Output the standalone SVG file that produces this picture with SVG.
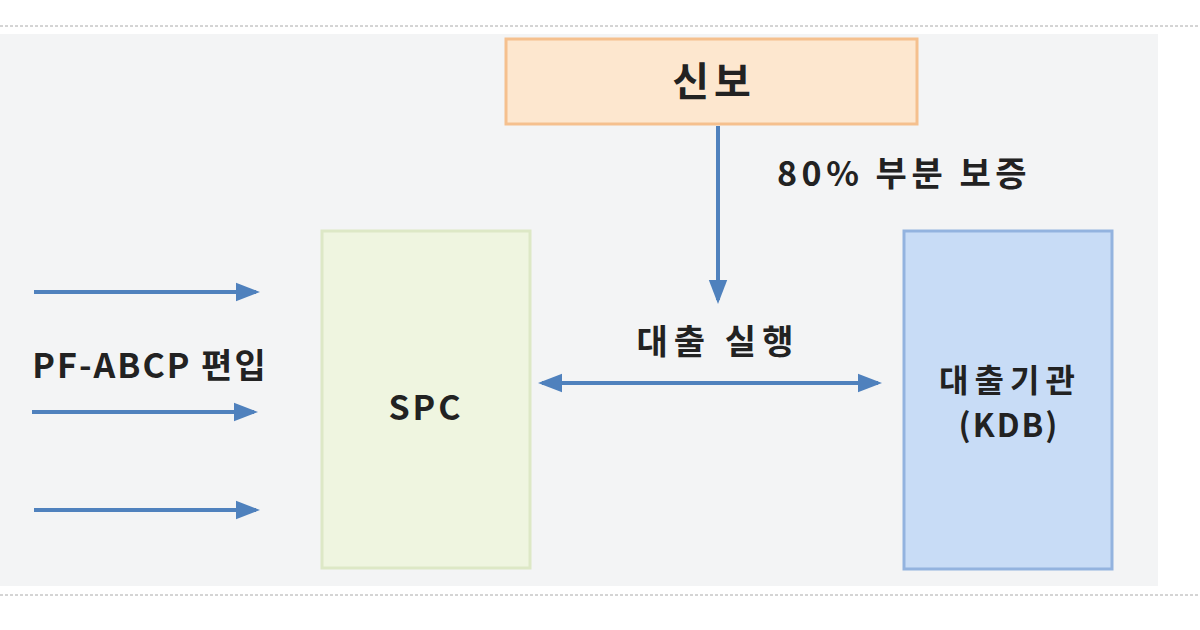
<svg xmlns="http://www.w3.org/2000/svg" width="1200" height="630" viewBox="0 0 1200 630">
<style>
.t{font-family:"Noto Sans CJK KR","Noto Sans",sans-serif;font-weight:bold;fill:#222;text-anchor:middle;font-size:34px}
.c{stroke:#4f81bd;stroke-width:4;fill:none}
.d{stroke:#aaa;stroke-width:1;stroke-dasharray:3 2}
</style>
<defs>
<marker id="ah" markerWidth="6" markerHeight="6" refX="5" refY="3" orient="auto-start-reverse" markerUnits="strokeWidth">
<path d="M0,0.7 L6,3 L0,5.3 Z" fill="#4f81bd"/>
</marker>
</defs>
<rect width="1200" height="630" fill="#fff"/>
<rect x="0" y="34" width="1158" height="552" fill="#f3f4f5"/>
<line class="d" x1="0" y1="26" x2="1200" y2="26"/>
<line class="d" x1="0" y1="595" x2="1200" y2="595"/>
<g id="sinbo">
<rect x="506" y="39" width="411" height="85" fill="#fde7cf" stroke="#f5c08e" stroke-width="3"/>
<text class="t" x="714" y="96" style="font-size:40px" letter-spacing="5">신보</text>
</g>
<g id="spc">
<rect x="322" y="231" width="208" height="337" fill="#eff5e0" stroke="#dde8c6" stroke-width="3"/>
<text class="t" x="426" y="420" letter-spacing="3">SPC</text>
</g>
<g id="kdb">
<rect x="904" y="231" width="208" height="338" fill="#c8dcf6" stroke="#93b3df" stroke-width="3"/>
<text class="t" x="1010" y="392" style="font-size:32px" letter-spacing="6">대출기관</text>
<text class="t" x="1009" y="437" style="font-size:32px" letter-spacing="2">(KDB)</text>
</g>
<g id="connectors">
<line class="c" x1="718" y1="126" x2="718" y2="300" marker-end="url(#ah)"/>
<line class="c" x1="542" y1="383" x2="878" y2="383" marker-start="url(#ah)" marker-end="url(#ah)"/>
<line class="c" x1="34" y1="292" x2="256" y2="292" marker-end="url(#ah)"/>
<line class="c" x1="32" y1="412" x2="254" y2="412" marker-end="url(#ah)"/>
<line class="c" x1="34" y1="510" x2="256" y2="510" marker-end="url(#ah)"/>
</g>
<g id="labels">
<text class="t" x="904" y="186" letter-spacing="4.5">80% 부분 보증</text>
<text class="t" x="718" y="354" letter-spacing="6">대출 실행</text>
<text class="t" x="150" y="378" letter-spacing="2">PF-ABCP 편입</text>
</g>
</svg>
